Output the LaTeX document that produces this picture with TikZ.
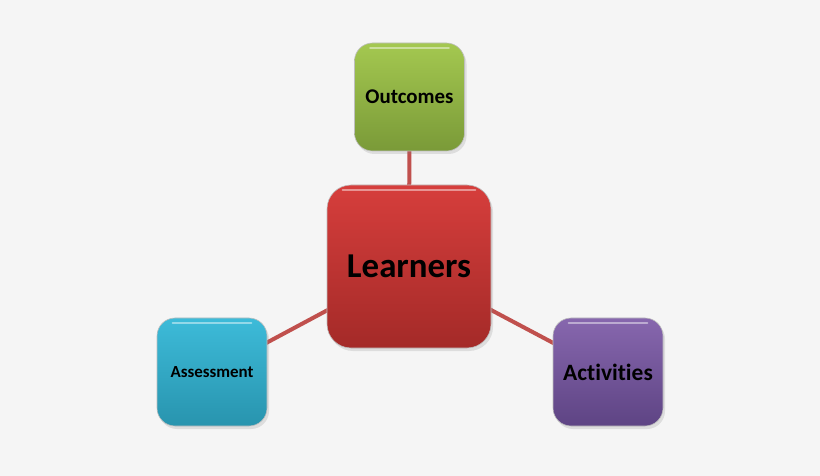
\documentclass[tikz,border=0pt]{standalone}
\usepackage{fontspec}
\setmainfont{Carlito}[Ligatures=NoCommon]
\usetikzlibrary{backgrounds,shadows}
\definecolor{pagegray}{HTML}{F5F5F5}
\definecolor{linkred}{HTML}{C0504D}
\definecolor{redtop}{HTML}{D63E3C}
\definecolor{redbot}{HTML}{A42A28}
\definecolor{greentop}{HTML}{A4C850}
\definecolor{greenbot}{HTML}{7A9A38}
\definecolor{bluetop}{HTML}{3DBBD9}
\definecolor{bluebot}{HTML}{2894AE}
\definecolor{purpletop}{HTML}{8767AE}
\definecolor{purplebot}{HTML}{5E4484}
\begin{document}
\begin{tikzpicture}[x=1bp,y=-1bp,font=\bfseries,
    box/.style={rounded corners=18bp,draw=white!75!black,line width=0.6bp,
        minimum width=110bp,minimum height=108bp,inner sep=0pt,
        drop shadow={opacity=0.2,shadow xshift=2bp,shadow yshift=-3bp}},
    link/.style={linkred,line width=4bp}]
    \useasboundingbox (0,0) rectangle (820,476);
    % central box and the three around it
    \node[box,rounded corners=24bp,minimum width=164bp,minimum height=163bp,
        top color=redtop,bottom color=redbot,
        font=\bfseries\fontsize{35}{40}\selectfont] (learners) at (409,266.5) {Learners};
    \node[box,top color=greentop,bottom color=greenbot,
        font=\bfseries\fontsize{21}{24}\selectfont] (outcomes) at (409.5,97) {Outcomes};
    \node[box,top color=bluetop,bottom color=bluebot,
        font=\bfseries\fontsize{17}{20}\selectfont] (assessment) at (212,372) {Assessment};
    \node[box,top color=purpletop,bottom color=purplebot,
        font=\bfseries\fontsize{23.5}{27}\selectfont] (activities) at (608,372) {Activities};
    % gloss along the top edges
    \foreach \n in {learners,outcomes,assessment,activities}
        \draw[white,opacity=0.45,line width=2bp,line cap=round]
            ([xshift=16bp,yshift=-5bp]\n.north west) -- ([xshift=-16bp,yshift=-5bp]\n.north east);
    \begin{scope}[on background layer]
        \fill[pagegray] (0,0) rectangle (820,476);
        \draw[link] (learners.center) -- (outcomes.center);
        \draw[link] (learners.center) -- (assessment.center);
        \draw[link] (learners.center) -- (activities.center);
    \end{scope}
\end{tikzpicture}
\end{document}
